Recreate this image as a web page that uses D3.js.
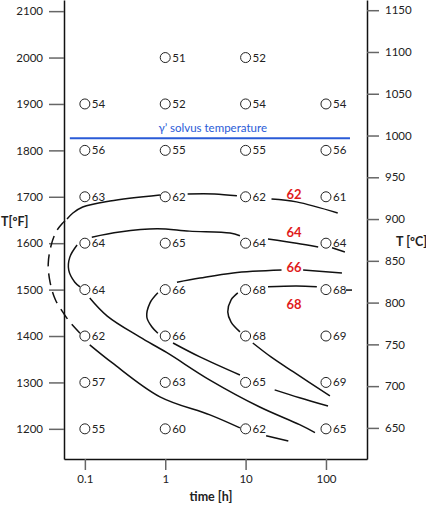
<!DOCTYPE html>
<html lang="en">

<head>
    <meta charset="UTF-8"/>
    <title>Hardness map</title>
    <script src="https://d3js.org/d3.v7.min.js" charset="utf-8"></script>

    <style type="text/css">
        body {
            margin: 0;
            background: #ffffff;
        }
        text {
            font-family: Lato, "Open Sans", sans-serif;
            font-size: 11.5px;
            fill: #222;
        }
        .axis path {
            fill: none;
            stroke: #111;
            stroke-width: 1.5px;
        }
        .axis line {
            fill: none;
            stroke: #666;
            stroke-width: 1.5px;
        }
        .axis text {
            font-size: 11.5px;
            fill: #222;
        }
        path.contour {
            fill: none;
            stroke: #111;
            stroke-width: 1.5px;
        }
        path.dashed {
            stroke-dasharray: 12, 7;
        }
        .title {
            font-weight: 700;
            font-size: 12.5px;
        }
        .level {
            font-weight: 700;
            font-size: 13px;
            fill: #e01b1b;
        }
    </style>
</head>
<body>

<div id="diagram"></div>

<script type="text/javascript">

    // ticks
    var timeTicks = [0.1, 1, 10, 100];
    var tempFTicks = [1200, 1300, 1400, 1500, 1600, 1700, 1800, 1900, 2000, 2100];
    var tempCTicks = [650, 700, 750, 800, 850, 900, 950, 1000, 1050, 1100, 1150];

    // measured hardness (HRC) at aging time [h] x temperature [F]
    var times = [0.1, 1, 10, 100];
    var temps = [2000, 1900, 1800, 1700, 1600, 1500, 1400, 1300, 1200];
    var hardness = [
        [null, 51, 52, null],
        [54, 52, 54, 54],
        [56, 55, 55, 56],
        [63, 62, 62, 61],
        [64, 65, 64, 64],
        [64, 66, 68, 68],
        [62, 66, 68, 69],
        [57, 63, 65, 69],
        [55, 60, 62, 65]
    ];

    // iso-hardness lines, [time h, temp F], broken where they pass a point
    var contour62 = [
        {dashed: true, pts: [[0.087, 1406], [0.065, 1430], [0.053, 1452], [0.043, 1478], [0.037, 1515], [0.035, 1555], [0.038, 1595], [0.044, 1625], [0.052, 1642], [0.060, 1652]]},
        {pts: [[0.060, 1652], [0.071, 1665], [0.094, 1678], [0.205, 1691], [0.86, 1704]]},
        {pts: [[1.9, 1706], [4.1, 1706], [7.8, 1702]]},
        {pts: [[21, 1695], [43, 1689], [140, 1665]]},
        {pts: [[0.115, 1381], [0.22, 1342], [0.86, 1269], [3.6, 1230], [8.5, 1202]]},
        {pts: [[18, 1185], [34, 1174]]}
    ];
    var contour64 = [
        {pts: [[0.122, 1613], [0.27, 1624], [0.79, 1631], [2.0, 1626], [6.4, 1622], [8.5, 1616]]},
        {pts: [[19, 1609], [43, 1600], [80, 1592]]},
        {pts: [[119, 1590], [172, 1581]]},
        {pts: [[0.08, 1596], [0.065, 1570], [0.063, 1542], [0.075, 1516], [0.087, 1506]]},
        {pts: [[0.115, 1482], [0.19, 1443], [0.48, 1398], [1.05, 1364], [3.6, 1305], [15, 1247], [47, 1209], [73, 1192]]}
    ];
    var contour66 = [
        {pts: [[1.4, 1516], [2.7, 1525], [7, 1536], [28, 1542]]},
        {pts: [[52, 1542], [158, 1536]]},
        {pts: [[0.81, 1493], [0.645, 1471], [0.59, 1441], [0.68, 1420], [0.81, 1406]]},
        {pts: [[1.25, 1385], [2.7, 1355], [8.5, 1316]]},
        {pts: [[23, 1284], [47, 1267], [106, 1249]]}
    ];
    var contour68 = [
        {pts: [[19, 1506], [43, 1508], [77, 1506]]},
        {pts: [[177, 1499], [211, 1499]]},
        {pts: [[8.0, 1493], [6.6, 1478], [6.0, 1452], [6.6, 1430], [8.5, 1409]]},
        {pts: [[12.3, 1385], [20.7, 1355], [39, 1323], [112, 1271]]}
    ];

    // red level labels
    var levels = [62, 64, 66, 68];
    var levelTime = 40;
    var levelTemps = [1704, 1622, 1547, 1467];

    // gamma prime solvus
    var solvusF = 1826;
    var solvusSpan = [0.065, 199];
    var solvusLabelTime = 3.9;

    var width = 426, height = 505;
    var margin = {top: 0, right: 59, bottom: 46, left: 64};

    var svg = d3.select("#diagram")
        .append("svg")
        .attr("width", width)
        .attr("height", height);

    var x = d3.scaleLog()
        .domain([0.055, 324])
        .range([margin.left, width - margin.right]);

    var y = d3.scaleLinear()
        .domain([1135, 2124])
        .range([height - margin.bottom, margin.top]);

    function toC(f) { return (f - 32) * 5 / 9; }

    var yC = d3.scaleLinear()
        .domain([toC(1135), toC(2124)])
        .range([height - margin.bottom, margin.top]);

    // axes
    svg.append("g")
        .attr("class", "axis")
        .attr("transform", "translate(" + margin.left + ",0)")
        .call(d3.axisLeft(y).tickValues(tempFTicks).tickFormat(d3.format("d"))
            .tickSize(15).tickSizeOuter(0).tickPadding(6));

    svg.append("g")
        .attr("class", "axis")
        .attr("transform", "translate(" + (width - margin.right) + ",0)")
        .call(d3.axisRight(yC).tickValues(tempCTicks).tickFormat(d3.format("d"))
            .tickSize(12).tickSizeOuter(0).tickPadding(6));

    svg.append("g")
        .attr("class", "axis")
        .attr("transform", "translate(0," + (height - margin.bottom) + ")")
        .call(d3.axisBottom(x).tickValues(timeTicks).tickFormat(function(d) { return d; })
            .tickSize(11).tickSizeOuter(0).tickPadding(5));

    svg.selectAll(".axis text").attr("font-family", null).attr("font-size", null);

    // axis titles
    svg.append("text")
        .attr("class", "title")
        .attr("x", 1)
        .attr("y", 226)
        .text("T[ºF]");

    svg.append("text")
        .attr("class", "title")
        .attr("x", 396)
        .attr("y", 246)
        .text("T [ºC]");

    svg.append("text")
        .attr("class", "title")
        .attr("x", 211)
        .attr("y", 501)
        .attr("text-anchor", "middle")
        .text("time [h]");

    // solvus line
    svg.append("line")
        .attr("x1", x(solvusSpan[0]))
        .attr("x2", x(solvusSpan[1]))
        .attr("y1", y(solvusF))
        .attr("y2", y(solvusF))
        .style("stroke", "#2a5bd7")
        .style("stroke-width", 2);

    svg.append("text")
        .attr("x", x(solvusLabelTime))
        .attr("y", y(solvusF) - 6)
        .attr("text-anchor", "middle")
        .style("fill", "#2a5bd7")
        .text("γ’ solvus temperature");

    // contour lines
    var line = d3.line()
        .x(function(d) { return x(d[0]); })
        .y(function(d) { return y(d[1]); })
        .curve(d3.curveCatmullRom.alpha(0.5));

    var segments = [].concat(contour62, contour64, contour66, contour68);

    svg.selectAll("path.contour")
        .data(segments)
        .enter()
        .append("path")
        .attr("class", function(d) { return d.dashed ? "contour dashed" : "contour"; })
        .attr("d", function(d) { return line(d.pts); });

    // measurement points
    var points = [];
    temps.forEach(function(t, i) {
        times.forEach(function(h, j) {
            if (hardness[i][j] != null) points.push({time: h, temp: t, hrc: hardness[i][j]});
        });
    });

    svg.selectAll("circle.pt")
        .data(points)
        .enter()
        .append("circle")
        .attr("class", "pt")
        .attr("cx", function(d) { return x(d.time); })
        .attr("cy", function(d) { return y(d.temp); })
        .attr("r", 5)
        .style("fill", "white")
        .style("stroke", "#222")
        .style("stroke-width", 1);

    svg.selectAll("text.hrc")
        .data(points)
        .enter()
        .append("text")
        .attr("class", "hrc")
        .attr("x", function(d) { return x(d.time) + 7; })
        .attr("y", function(d) { return y(d.temp) + 4; })
        .text(function(d) { return d.hrc; });

    // level labels
    svg.selectAll("text.level")
        .data(levels)
        .enter()
        .append("text")
        .attr("class", "level")
        .attr("x", x(levelTime))
        .attr("y", function(d, i) { return y(levelTemps[i]) + 4; })
        .attr("text-anchor", "middle")
        .text(function(d) { return d; });

</script>
</body>
</html>
